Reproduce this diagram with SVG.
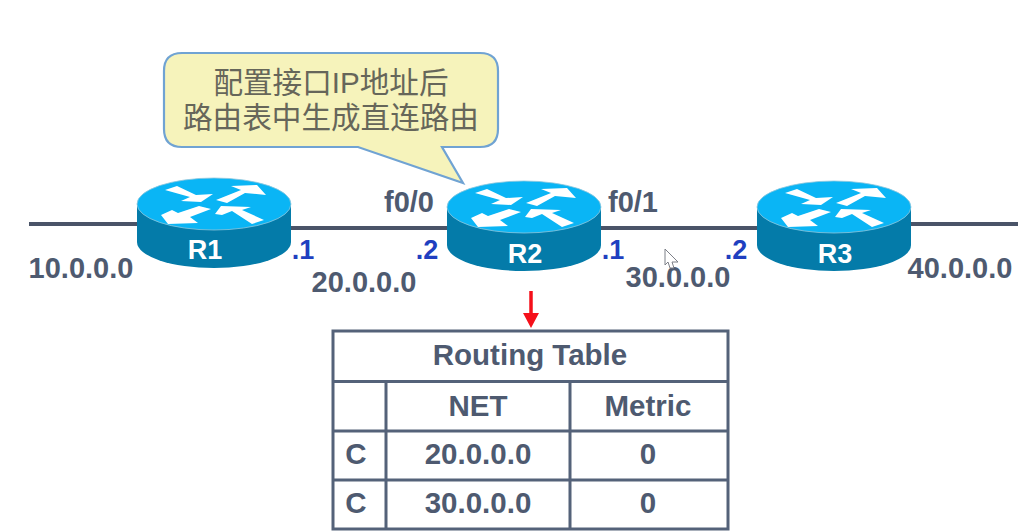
<svg xmlns="http://www.w3.org/2000/svg" width="1022" height="531" viewBox="0 0 1022 531">
<style>
.t{font-family:"Liberation Sans",Arial,sans-serif;font-weight:700;fill:#4e5a70;text-anchor:middle}
.n{font-size:29px}
.m{font-size:29.500px}
.b{font-size:27px;fill:#1f3fc0}
.r{font-size:27px;fill:#fff}
.c{font-family:"Liberation Sans","Noto Sans CJK SC","Noto Sans CJK JP",sans-serif;font-size:29.600px;fill:#66665a;text-anchor:middle}
.l{stroke:#4a5468;stroke-width:4;fill:none}
.g{stroke:#546279;stroke-width:3;fill:none}
</style>
<defs>
<g id="rt">
<path d="M-77 0V38A77 26 0 0 0 77 38V0Z" fill="#047ba9"/>
<ellipse cx="0" cy="0" rx="77" ry="26" fill="#0ab5f5" stroke="#8fc6dc" stroke-width="0.8"/>
<g fill="#fff">
<polygon points="-49,-14 -37,-18 -18,-9 -1,-10 -13,-2 -33,-3 -24,-7"/>
<polygon points="2,-4 27,-14 17,-18 43,-19 52,-9 31,-11 13,-1"/>
<polygon points="-53,11 -42,6 -36,9 -15,2 -3,5 -24,13 -16,19 -46,20"/>
<polygon points="1,10 7,2 37,3 28,6 50,16 38,20 18,7 8,11"/>
</g>
</g>
</defs>
<rect width="1022" height="531" fill="#fff"/>
<g id="connectors">
<path class="l" d="M29 224H137"/>
<path class="l" d="M291 228H447"/>
<path class="l" d="M601 228H757"/>
<path class="l" d="M911 224H1018"/>
<path d="M531 291V314" stroke="#f5101a" stroke-width="3.500" fill="none"/>
<polygon points="523,313 539,313 531,328" fill="#f5101a"/>
</g>
<g id="callout">
<path d="M182 53H480Q498 53 498 71V129Q498 147 480 147H442L463 183L358 147H182Q164 147 164 129V71Q164 53 182 53Z" fill="#f6f3bb" stroke="#70a3d3" stroke-width="2.200"/>
<text class="c"><tspan x="331" y="93">配置接口IP地址后</tspan><tspan x="331" y="128">路由表中生成直连路由</tspan></text>
</g>
<g id="R1"><use href="#rt" x="214" y="204"/><text class="t r" x="205" y="259">R1</text></g>
<g id="R2"><use href="#rt" x="524" y="207"/><text class="t r" x="525" y="263">R2</text></g>
<g id="R3"><use href="#rt" x="834" y="207"/><text class="t r" x="835" y="263">R3</text></g>
<g id="labels">
<text class="t n" x="81" y="278">10.0.0.0</text>
<text class="t n" x="364" y="292">20.0.0.0</text>
<text class="t n" x="678" y="287">30.0.0.0</text>
<text class="t n" x="960" y="278">40.0.0.0</text>
<text class="t b" x="303" y="259">.1</text>
<text class="t b" x="427" y="259">.2</text>
<text class="t b" x="613" y="259">.1</text>
<text class="t b" x="736" y="259">.2</text>
<text class="t n" x="409" y="212">f0/0</text>
<text class="t n" x="633" y="212">f0/1</text>
</g>
<polygon id="cursor" points="665,249 678,262 672,262 674,268 670,268 668,262 665,265" fill="#fff" stroke="#7d8088" stroke-width="1"/>
<g id="table">
<rect class="g" x="333" y="331" width="395" height="198"/>
<path class="g" d="M333 381.500H728M333 431H728M333 480H728M386 381.500V529M570 381.500V529"/>
<text class="t m" x="530" y="365">Routing Table</text>
<text class="t m" x="478" y="416">NET</text>
<text class="t m" x="648" y="416">Metric</text>
<text class="t m" x="356" y="464">C</text>
<text class="t m" x="478" y="464">20.0.0.0</text>
<text class="t m" x="648" y="464">0</text>
<text class="t m" x="356" y="513">C</text>
<text class="t m" x="478" y="513">30.0.0.0</text>
<text class="t m" x="648" y="513">0</text>
</g>
</svg>
